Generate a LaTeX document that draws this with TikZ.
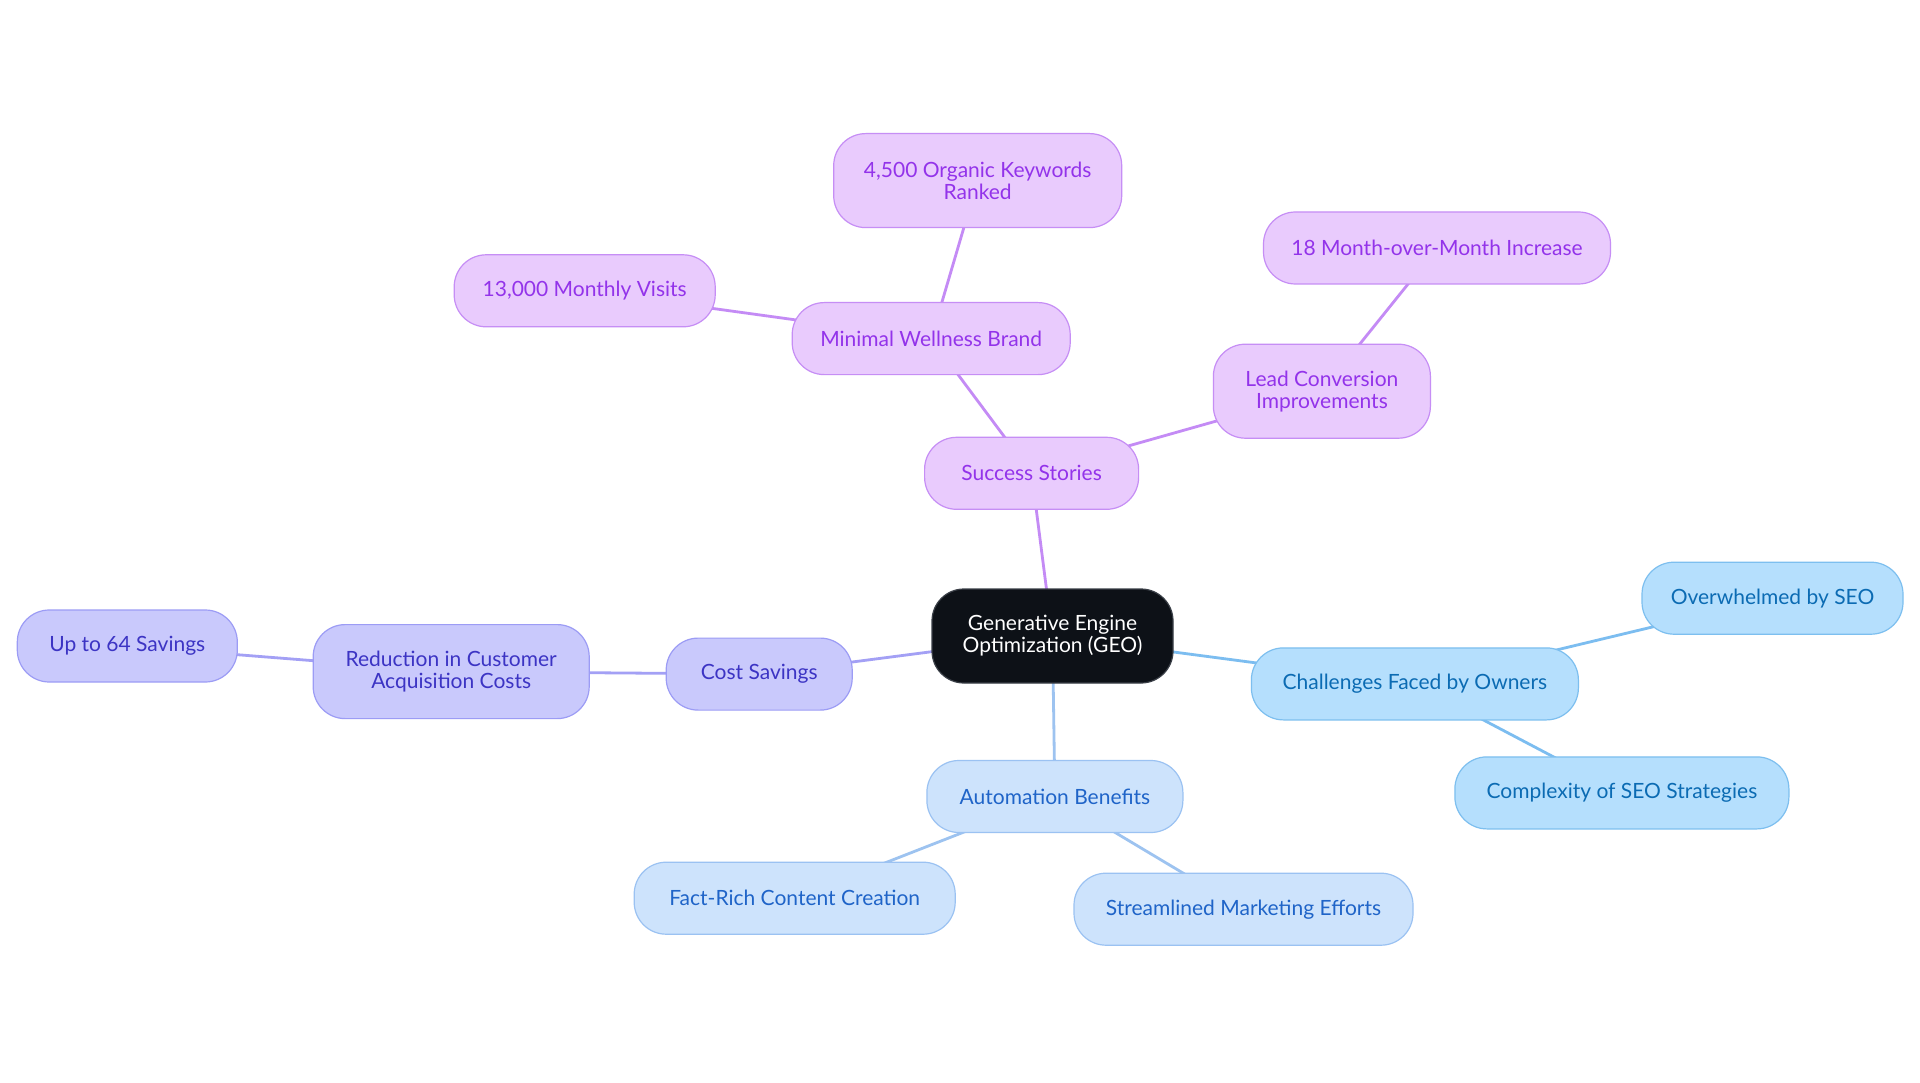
\documentclass[tikz,border=0pt]{standalone}
\usepackage{fontspec}
\setmainfont{Lato}
\usetikzlibrary{backgrounds}
\definecolor{pfill}{HTML}{E9CBFD}
\definecolor{pdraw}{HTML}{C68EF5}
\definecolor{ptext}{HTML}{9333EA}
\definecolor{pedge}{HTML}{C48BF5}
\definecolor{ifill}{HTML}{C9C9FC}
\definecolor{idraw}{HTML}{9C9CF5}
\definecolor{itext}{HTML}{3C34C4}
\definecolor{iedge}{HTML}{A3A0F5}
\definecolor{sfill}{HTML}{B5DFFD}
\definecolor{sdraw}{HTML}{7DBFEF}
\definecolor{stext}{HTML}{0B6BB3}
\definecolor{sedge}{HTML}{7CBDF0}
\definecolor{bfill}{HTML}{CDE3FC}
\definecolor{bdraw}{HTML}{9BC2F2}
\definecolor{btext}{HTML}{1F64C8}
\definecolor{bedge}{HTML}{9DC3F0}
\definecolor{cfill}{HTML}{0D1117}
\definecolor{cdraw}{HTML}{3A3F47}
\tikzset{
  mm/.style={rounded corners=32pt, draw, line width=1.2pt, align=center, inner sep=0pt,
    font=\fontsize{21}{22}\selectfont},
  sz/.style 2 args={minimum width=#1pt, minimum height=#2pt},
  pbox/.style={mm, fill=pfill, draw=pdraw, text=ptext},
  ibox/.style={mm, fill=ifill, draw=idraw, text=itext},
  sbox/.style={mm, fill=sfill, draw=sdraw, text=stext},
  bbox/.style={mm, fill=bfill, draw=bdraw, text=btext},
  cbox/.style={mm, fill=cfill, draw=cdraw, text=white},
  link/.style={line width=2.8pt},
}
\begin{document}
\begin{tikzpicture}[x=1pt,y=-1pt]
\useasboundingbox (0,0) rectangle (1920,1083);
\node[cbox, sz={241}{94}] (geo) at (1052.5,636) {Generative Engine\\Optimization (GEO)};
\node[pbox, sz={214}{72}] (succ) at (1031.6,473.3) {Success Stories};
\node[pbox, sz={278}{72}] (minimal) at (931.2,338.6) {Minimal Wellness Brand};
\node[pbox, sz={288}{94}] (k4500) at (977.7,180.6) {4,500 Organic Keywords\\Ranked};
\node[pbox, sz={261}{72}] (m13000) at (584.7,290.8) {13,000 Monthly Visits};
\node[pbox, sz={217}{94}] (lead) at (1321.9,391.2) {Lead Conversion\\Improvements};
\node[pbox, sz={347}{72}] (mom) at (1437,248) {18 Month-over-Month Increase};
\node[ibox, sz={186}{72}] (cost) at (759.2,674.1) {Cost Savings};
\node[ibox, sz={276}{94}] (reduc) at (451.2,671.6) {Reduction in Customer\\Acquisition Costs};
\node[ibox, sz={220}{72}] (upto) at (127.3,646) {Up to 64 Savings};
\node[sbox, sz={327}{72}] (chall) at (1414.9,683.9) {Challenges Faced by Owners};
\node[sbox, sz={261}{72}] (overw) at (1772.5,598.2) {Overwhelmed by SEO};
\node[sbox, sz={334}{72}] (compl) at (1621.9,792.9) {Complexity of SEO Strategies};
\node[bbox, sz={256}{72}] (auto) at (1054.9,796.5) {Automation Benefits};
\node[bbox, sz={321}{72}] (fact) at (794.7,898.2) {Fact-Rich Content Creation};
\node[bbox, sz={339}{72}] (stream) at (1243.5,909.2) {Streamlined Marketing Efforts};
\begin{pgfonlayer}{background}
\fill[white] (0,0) rectangle (1920,1083);
\draw[link, pedge] (geo.center) -- (succ.center);
\draw[link, pedge] (succ.center) -- (minimal.center);
\draw[link, pedge] (minimal.center) -- (k4500.center);
\draw[link, pedge] (minimal.center) -- (m13000.center);
\draw[link, pedge] (succ.center) -- (lead.center);
\draw[link, pedge] (lead.center) -- (mom.center);
\draw[link, iedge] (geo.center) -- (cost.center);
\draw[link, iedge] (cost.center) -- (reduc.center);
\draw[link, iedge] (reduc.center) -- (upto.center);
\draw[link, sedge] (geo.center) -- (chall.center);
\draw[link, sedge] (chall.center) -- (overw.center);
\draw[link, sedge] (chall.center) -- (compl.center);
\draw[link, bedge] (geo.center) -- (auto.center);
\draw[link, bedge] (auto.center) -- (fact.center);
\draw[link, bedge] (auto.center) -- (stream.center);
\end{pgfonlayer}
\end{tikzpicture}
\end{document}
